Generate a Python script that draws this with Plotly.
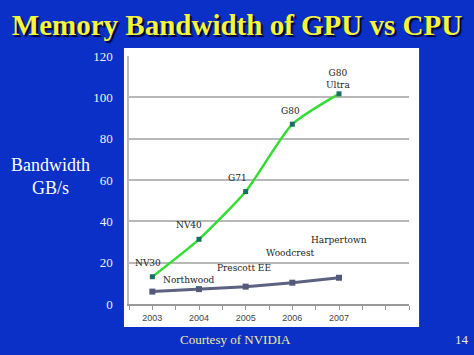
import plotly.graph_objects as go

years = [2003, 2004, 2005, 2006, 2007]
gpu_bw = [13.2, 31.3, 54.4, 87.0, 101.7]
cpu_bw = [6.0, 7.2, 8.4, 10.3, 12.7]

gpu_labels = ["NV30", "NV40", "G71", "G80", "G80<br>Ultra"]
gpu_label_x = [2002.91, 2003.79, 2004.82, 2005.95, 2006.97]
gpu_label_y = [20.0, 38.2, 60.8, 93.4, 108.8]

cpu_labels = ["Northwood", "Prescott EE", "Woodcrest", "Harpertown"]
cpu_label_x = [2003.79, 2004.97, 2005.96, 2007.0]
cpu_label_y = [11.6, 17.6, 24.5, 30.8]

y_ticks = [0, 20, 40, 60, 80, 100, 120]

BG = "#0a30c8"

fig = go.Figure()
fig.add_trace(go.Scatter(
    x=years, y=cpu_bw, mode="lines+markers",
    line=dict(color="#5c6280", width=3),
    marker=dict(symbol="square", size=6, color="#555a7a"),
    hoverinfo="skip", showlegend=False))
fig.add_trace(go.Scatter(
    x=years, y=gpu_bw, mode="lines+markers",
    line=dict(color="#33dd33", width=2.5, shape="spline", smoothing=0.6),
    marker=dict(symbol="square", size=5, color="#1a7060"),
    hoverinfo="skip", showlegend=False))

for t, x, y in zip(gpu_labels + cpu_labels, gpu_label_x + cpu_label_x, gpu_label_y + cpu_label_y):
    fig.add_annotation(x=x, y=y, text=t, showarrow=False,
                       font=dict(family="DejaVu Serif", size=9, color="#222222"))

fig.add_shape(type="rect", xref="paper", yref="paper", x0=-0.018, x1=1.036, y0=-0.093, y1=1.032,
              fillcolor="white", line=dict(width=0), layer="below")

fig.add_annotation(xref="paper", yref="paper", x=-0.28, y=0.515, xanchor="center", yanchor="middle",
                   text="Bandwidth<br>GB/s", showarrow=False, align="center",
                   font=dict(family="Liberation Serif", size=18, color="white"))
fig.add_annotation(xref="paper", yref="paper", x=0.38, y=-0.145, xanchor="center", yanchor="middle",
                   text="Courtesy of NVIDIA", showarrow=False,
                   font=dict(family="Liberation Serif", size=13, color="#eeee99"))
fig.add_annotation(xref="paper", yref="paper", x=1.19, y=-0.145, xanchor="center", yanchor="middle",
                   text="14", showarrow=False,
                   font=dict(family="Liberation Serif", size=13, color="#e8e8d8"))

fig.update_layout(
    width=474, height=355,
    margin=dict(l=129, r=65, t=56, b=51),
    paper_bgcolor=BG, plot_bgcolor="white",
    title=dict(text="<b>Memory Bandwidth of GPU vs CPU</b>", x=0.5, xanchor="center",
               y=1 - 25 / 355, yanchor="middle", yref="container",
               font=dict(family="Liberation Serif", size=29, color="#f5f53a",
                         shadow="2px 2px 1px #000033")),
    xaxis=dict(range=[2002.5, 2008.5], tickvals=years, ticktext=[str(y) for y in years],
               showgrid=False, zeroline=False, showline=True, linecolor="#999999", linewidth=1.5,
               ticks="outside", ticklen=4, tickcolor="#999999",
               minor=dict(tick0=2002.5, dtick=0.5, ticks="outside", ticklen=4, tickcolor="#999999"),
               tickfont=dict(family="Liberation Sans", size=9, color="#444444")),
    yaxis=dict(range=[0, 120], tickvals=y_ticks, showgrid=True, gridcolor="#b8b8b8", gridwidth=1.5,
               zeroline=False, showline=True, linecolor="#bbbbbb", linewidth=1.5,
               ticklabelstandoff=12,
               tickfont=dict(family="Liberation Serif", size=13, color="#f2f2ea")),
)

fig.write_html("out.html", config={"displayModeBar": False},
               post_script="document.body.style.margin='0';document.body.style.background='" + BG + "';")
